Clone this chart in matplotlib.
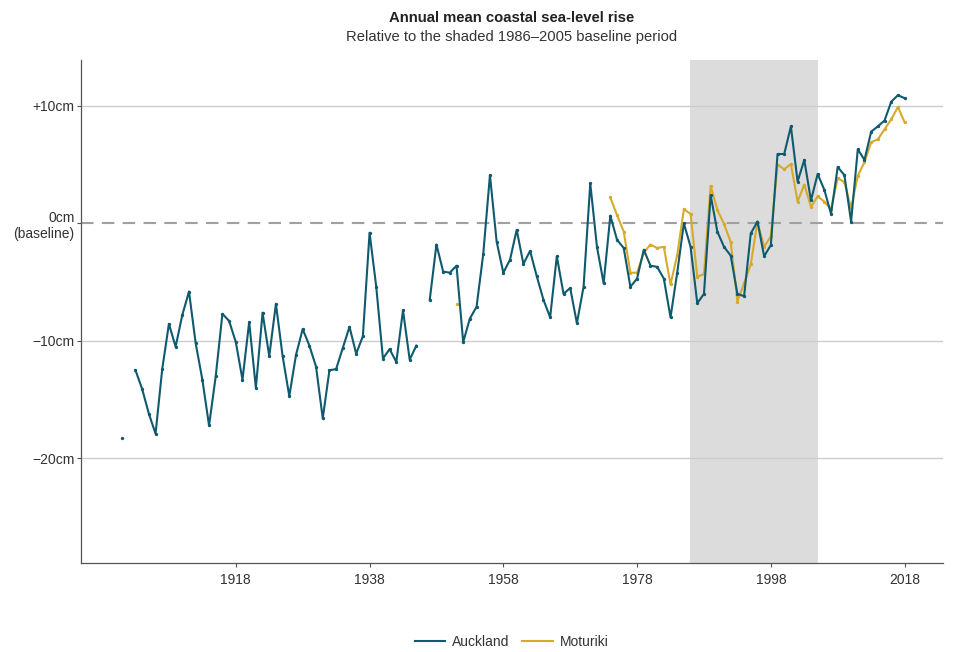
import numpy as np
import matplotlib.pyplot as plt

plt.rcParams['font.family'] = ['Liberation Sans', 'DejaVu Sans']

# Auckland annual mean sea level (cm, relative to 1986-2005), NaN = no data
auckland_years = list(range(1901, 2019))
auckland_values = [
    -18.3, np.nan, -12.5, -14.1, -16.2, -17.9, -12.4, -8.55, -10.5, -7.8,    # 1901-1910
    -5.8, -10.2, -13.3, -17.2, -13.0, -7.7, -8.3, -10.1, -13.3, -8.4,        # 1911-1920
    -14.0, -7.6, -11.3, -6.85, -11.3, -14.7, -11.2, -9.0, -10.4, -12.2,      # 1921-1930
    -16.6, -12.5, -12.4, -10.6, -8.8, -11.1, -9.6, -0.8, -5.4, -11.5,        # 1931-1940
    -10.7, -11.8, -7.4, -11.6, -10.4, np.nan, -6.5, -1.8, -4.1, -4.2,        # 1941-1950
    -3.6, -10.1, -8.1, -7.1, -2.6, 4.1, -1.55, -4.2, -3.1, -0.55,            # 1951-1960
    -3.45, -2.35, -4.5, -6.5, -8.0, -2.8, -6.0, -5.5, -8.5, -5.4,            # 1961-1970
    3.4, -2.0, -5.1, 0.65, -1.4, -2.1, -5.4, -4.7, -2.25, -3.6,              # 1971-1980
    -3.7, -4.7, -8.0, -4.2, 0.0, -2.0, -6.8, -6.0, 2.4, -0.7,                # 1981-1990
    -2.0, -2.75, -6.0, -6.2, -0.85, 0.15, -2.8, -1.85, 5.9, 5.9,             # 1991-2000
    8.25, 3.55, 5.4, 1.95, 4.2, 2.85, 0.8, 4.8, 4.1, 0.15,                   # 2001-2010
    6.3, 5.4, 7.8, 8.25, 8.75, 10.35, 10.9, 10.65,                           # 2011-2018
]

# Moturiki: a single value in 1951, then 1974-2018
moturiki_years = [1951, 1952] + list(range(1973, 2019))
moturiki_values = [
    -6.9, np.nan, np.nan,
    2.2, 0.7, -0.7, -4.2, -4.2, -2.5, -1.8, -2.1, -2.0, -5.2,                # 1974-1983
    -2.7, 1.2, 0.8, -4.55, -4.3, 3.2, 1.15, -0.05, -1.6, -6.65,              # 1984-1993
    -5.1, -3.5, 0.15, -2.0, -1.1, 5.0, 4.6, 5.05, 1.85, 3.3,                 # 1994-2003
    1.4, 2.3, 1.85, 1.2, 3.85, 3.5, 1.3, 4.05, 5.2, 6.9,                     # 2004-2013
    7.15, 8.0, 8.85, 9.9, 8.6,                                               # 2014-2018
]

baseline_start, baseline_end = 1986, 2005
x_ticks = [1918, 1938, 1958, 1978, 1998, 2018]
y_ticks = [10, 0, -10, -20]
y_labels = ['+10cm', '0cm\n(baseline)', '\u221210cm', '\u221220cm']

auckland_color = '#0f5a6e'
moturiki_color = '#d6aa2a'

fig = plt.figure(figsize=(9.6, 6.52), dpi=100)
ax = fig.add_axes([0.084, 0.1365, 0.898, 0.7715])
cx = 0.084 + 0.898 / 2  # titles and legend are centred on the plot panel

ax.axvspan(baseline_start - 0.1, baseline_end, color='#dcdcdc', lw=0, zorder=0)

for y in [10, -10, -20]:
    ax.axhline(y, color='#cccccc', lw=1.0, zorder=1)
ax.axhline(0, color='#a0a0a0', lw=1.5, ls=(0, (6, 4)), zorder=1)

a_y = np.array(auckland_years)
a_v = np.array(auckland_values)
m_y = np.array(moturiki_years)
m_v = np.array(moturiki_values)

ax.plot(a_y, a_v, color=auckland_color, lw=1.5, zorder=4, label='Auckland')
ax.plot(m_y, m_v, color=moturiki_color, lw=1.5, zorder=3, label='Moturiki')
ax.plot(a_y, a_v, 'o', color=auckland_color, ms=1.4, zorder=4)
ax.plot(m_y, m_v, 'o', color=moturiki_color, ms=1.4, zorder=3)

ax.set_xlim(1894.8, 2023.7)
ax.set_ylim(-28.9, 13.9)
ax.set_xticks(x_ticks)
ax.set_yticks(y_ticks)
ax.set_yticklabels(y_labels)
ax.tick_params(axis='both', labelsize=10, labelcolor='#333333', length=3,
               width=0.8, color='#555555')
ax.tick_params(axis='y', pad=1.5)
ax.tick_params(axis='x', pad=4)

for side in ['top', 'right']:
    ax.spines[side].set_visible(False)
for side in ['left', 'bottom']:
    ax.spines[side].set_color('#555555')
    ax.spines[side].set_linewidth(0.9)

fig.text(cx, 0.973, 'Annual mean coastal sea-level rise', ha='center',
         va='center', fontsize=10.7, fontweight='bold', color='#222222')
fig.text(cx, 0.943, 'Relative to the shaded 1986\u20132005 baseline period',
         ha='center', va='center', fontsize=10.6, color='#333333')

fig.legend(loc='center', bbox_to_anchor=(cx, 0.016), ncol=2, frameon=False,
           fontsize=10, handlelength=2.2, columnspacing=0.9,
           handletextpad=0.5, labelcolor='#333333')

fig.savefig('out.png', dpi=100)
